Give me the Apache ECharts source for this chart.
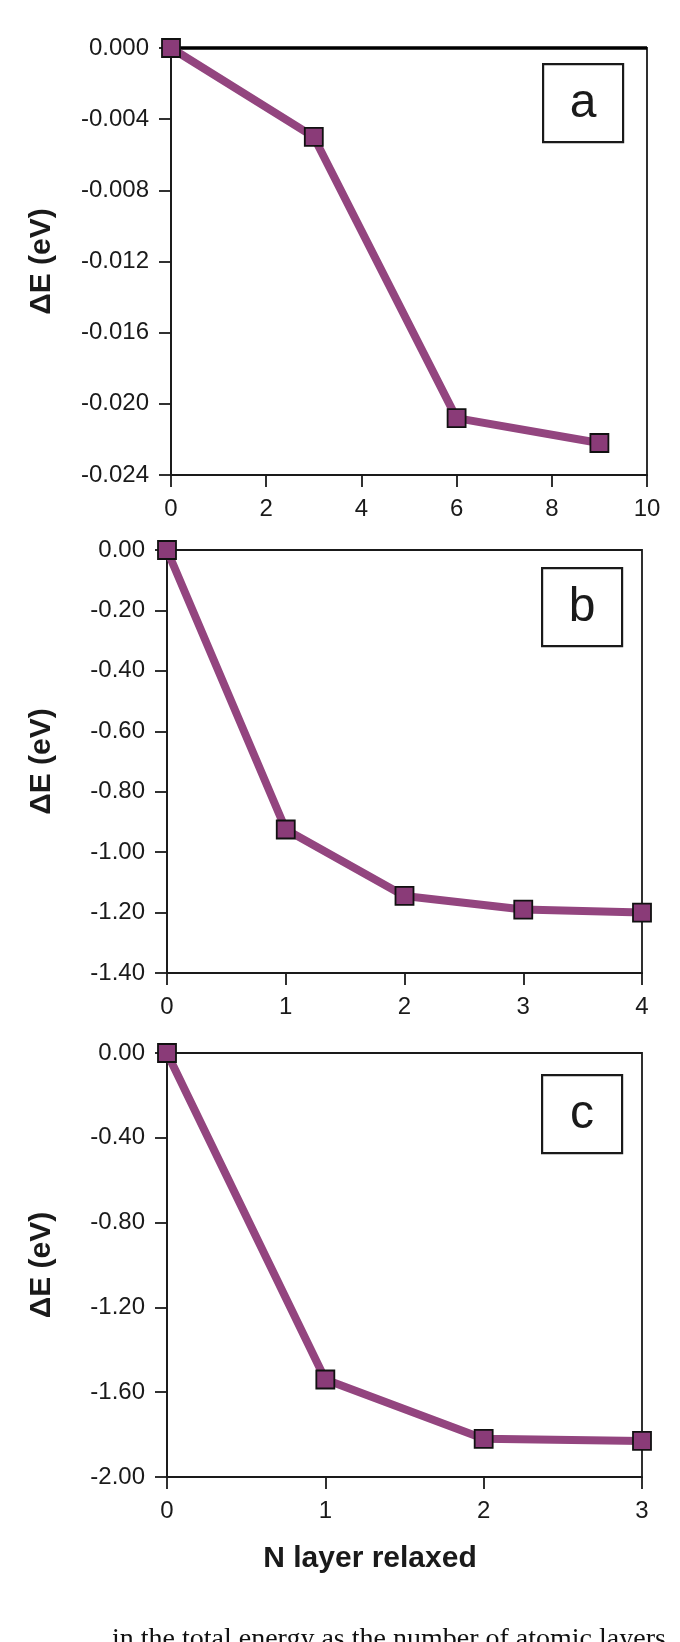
<!DOCTYPE html>
<html>
<head>
<meta charset="utf-8">
<script src="https://cdn.jsdelivr.net/npm/echarts@6/dist/echarts.min.js"></script>
<style>
html,body{margin:0;padding:0;background:#fff;}
#chart{width:680px;height:1642px;}
</style>
</head>
<body>
<div id="chart"></div>
<script>
// ---- data ----
const aX = [0, 3, 6, 9];
const aY = [0, -0.005, -0.0208, -0.0222];
const bX = [0, 1, 2, 3, 4];
const bY = [0, -0.925, -1.145, -1.19, -1.2];
const cX = [0, 1, 2, 3];
const cY = [0, -1.54, -1.82, -1.83];
const panelLetters = ['a', 'b', 'c'];
const yTitle = 'ΔE (eV)';
const xTitle = 'N layer relaxed';
const captionText = 'in the total energy as the number of atomic layers';

const pairs = (xs, ys) => xs.map((x, i) => [x, ys[i]]);

const chart = echarts.init(document.getElementById('chart'), null, {renderer: 'canvas'});

const lineColor = '#93457f';
const markerColor = '#8a3b78';
const ink = '#1a1a1a';
const labelFont = {fontFamily: 'Liberation Sans, Arial, sans-serif', fontSize: 24, color: ink};

const grids = [
  {left: 171, right: 33, top: 48, height: 427},
  {left: 167, right: 38, top: 550, height: 423},
  {left: 167, right: 38, top: 1053, height: 424}
];

const xCfg = [
  {min: 0, max: 10, interval: 2, fmt: v => String(v)},
  {min: 0, max: 4, interval: 1, fmt: v => String(v)},
  {min: 0, max: 3, interval: 1, fmt: v => String(v)}
];
const yCfg = [
  {min: -0.024, max: 0, interval: 0.004, fmt: v => v.toFixed(3), gap: 114},
  {min: -1.4, max: 0, interval: 0.2, fmt: v => v.toFixed(2), gap: 110},
  {min: -2.0, max: 0, interval: 0.4, fmt: v => v.toFixed(2), gap: 110}
];

const axisLine = {show: true, onZero: false, lineStyle: {color: ink, width: 1.8}};
const axisTick = {show: true, inside: false, length: 12, lineStyle: {color: ink, width: 1.8}};

const option = {
  backgroundColor: '#ffffff',
  animation: false,
  grid: grids.map(g => Object.assign({show: true, borderColor: ink, borderWidth: 1.8, backgroundColor: 'transparent'}, g)),
  xAxis: xCfg.map((c, i) => ({
    type: 'value', gridIndex: i, min: c.min, max: c.max, interval: c.interval,
    axisLine, axisTick, splitLine: {show: false},
    axisLabel: Object.assign({margin: 22, formatter: c.fmt}, labelFont)
  })),
  yAxis: yCfg.map((c, i) => ({
    type: 'value', gridIndex: i, min: c.min, max: c.max, interval: c.interval,
    axisLine, axisTick, splitLine: {show: false},
    axisLabel: Object.assign({margin: 22, formatter: c.fmt}, labelFont),
    name: yTitle, nameLocation: 'middle', nameGap: c.gap,
    nameTextStyle: {fontFamily: 'Liberation Sans, Arial, sans-serif', fontWeight: 'bold', fontSize: 30, lineHeight: 30, color: ink}
  })),
  series: [[aX, aY], [bX, bY], [cX, cY]].map((d, i) => {
    const s = {
      type: 'line', xAxisIndex: i, yAxisIndex: i,
      data: pairs(d[0], d[1]),
      symbol: 'rect', symbolSize: 18,
      lineStyle: {color: lineColor, width: 8},
      itemStyle: {color: markerColor, borderColor: '#111', borderWidth: 1.8},
      z: 3
    };
    if (i === 0) {
      s.markLine = {
        silent: true, symbol: 'none', label: {show: false},
        lineStyle: {color: '#000', width: 3.5, type: 'solid'},
        data: [{yAxis: 0}], z: 1
      };
    }
    return s;
  }),
  graphic: [
    ...[[542, 63], [541, 567], [541, 1074]].map((p, i) => ({
      type: 'group', left: p[0], top: p[1],
      children: [
        {type: 'rect', shape: {x: 0, y: 0, width: 80, height: 78},
         style: {fill: '#fff', stroke: ink, lineWidth: 2.2}},
        {type: 'text', x: 40, y: 40,
         style: {text: panelLetters[i], font: '48px "Liberation Sans", Arial, sans-serif',
                 fill: ink, textAlign: 'center', textVerticalAlign: 'middle'}}
      ]
    })),
    {type: 'text', x: 370, y: 1559,
     style: {text: xTitle, font: 'bold 30px "Liberation Sans", Arial, sans-serif',
             fill: ink, textAlign: 'center', textVerticalAlign: 'middle'}},
    {type: 'text', x: 112, y: 1626,
     style: {text: captionText, font: '28px "Liberation Serif", "Times New Roman", serif',
             fill: '#111', textAlign: 'left', textVerticalAlign: 'top'}}
  ]
};
chart.setOption(option);
</script>
</body>
</html>
